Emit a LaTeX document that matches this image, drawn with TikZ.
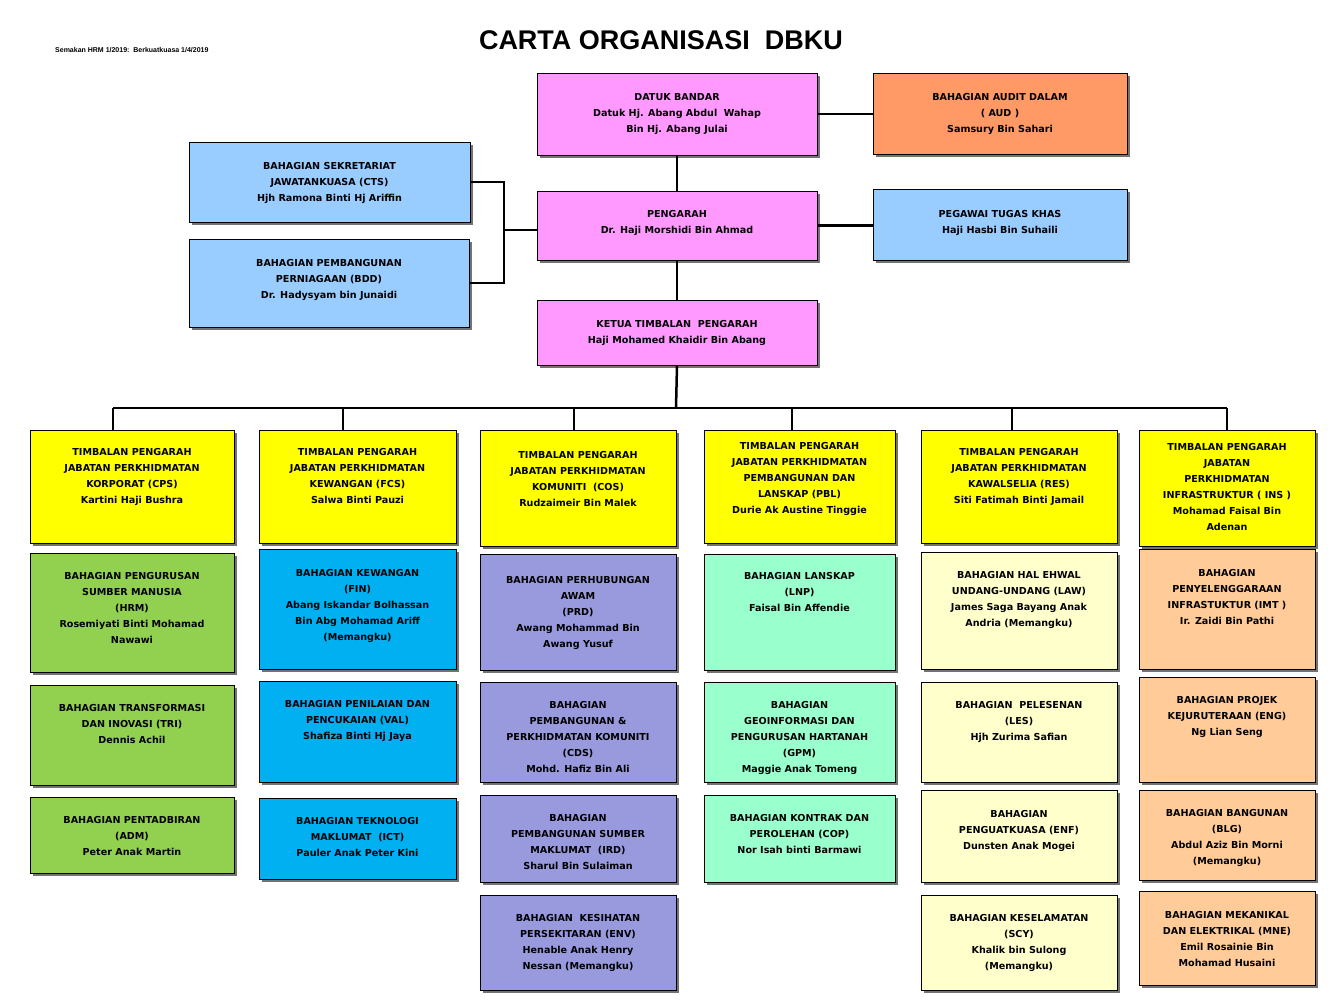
\documentclass[tikz,border=0pt]{standalone}
\usepackage{fontspec}
\setmainfont{DejaVu Sans}
\newfontfamily\titlef{Liberation Sans}
\definecolor{cpink}{HTML}{FF99FF}
\definecolor{corange}{HTML}{FF9966}
\definecolor{cblue}{HTML}{99CCFF}
\definecolor{cyel}{HTML}{FFFF00}
\definecolor{cgreen}{HTML}{92D050}
\definecolor{ccyan}{HTML}{00B0F0}
\definecolor{cpurp}{HTML}{9999DD}
\definecolor{caqua}{HTML}{99FFCC}
\definecolor{ccream}{HTML}{FFFFCC}
\definecolor{cpeach}{HTML}{FFCC99}
\tikzset{
 box/.style={draw=black,line width=0.8pt,inner sep=0pt},
 txt/.style={align=center,inner sep=0pt,font=\fontsize{9.6}{16}\selectfont\bfseries},
 conn/.style={line width=2.5pt,black},
 shadow/.style={fill=black!55}
}
\newcommand\bx[8]{%
 \pgfmathsetmacro\bw{#4-#2}\pgfmathsetmacro\bh{#5-#3}%
 \pgfmathsetmacro\cx{(#2+#4)/2}\pgfmathsetmacro\cy{(#3+#5)/2}\pgfmathsetmacro\ty{#3+#7}%
 \fill[shadow] (#2+3,#3+3) rectangle (#4+3,#5+3);
 \node[box,fill=#6,minimum width=\bw pt,minimum height=\bh pt] (#1) at (\cx,\cy) {};
 \node[txt,anchor=north] (#1t) at (\cx,\ty) {#8};}
\begin{document}
\begin{tikzpicture}[x=1pt,y=-1pt]
\useasboundingbox[fill=white] (0,0) rectangle (1344,1008);
\node[font=\titlef\fontsize{27}{30}\selectfont\bfseries] (title) at (661,40) {CARTA ORGANISASI\ \ DBKU};
\node[font=\titlef\fontsize{7}{8}\selectfont\bfseries,anchor=west,inner sep=0pt] (sem) at (55,50) {Semakan HRM 1/2019:\ \ Berkuatkuasa 1/4/2019};
% top
\bx{datuk}{537}{73}{817}{155}{cpink}{20}{DATUK BANDAR\\Datuk Hj. Abang Abdul\ \ Wahap\\Bin Hj. Abang Julai}
\bx{aud}{873}{73}{1127}{154}{corange}{20}{BAHAGIAN AUDIT DALAM\\( AUD )\\Samsury Bin Sahari}
\bx{sek}{189}{142}{470}{222}{cblue}{20}{BAHAGIAN SEKRETARIAT\\JAWATANKUASA (CTS)\\Hjh Ramona Binti Hj Ariffin}
\bx{bdd}{189}{239}{469}{327}{cblue}{20}{BAHAGIAN PEMBANGUNAN\\PERNIAGAAN (BDD)\\Dr. Hadysyam bin Junaidi}
\bx{peng}{537}{191}{817}{260}{cpink}{19}{PENGARAH\\Dr. Haji Morshidi Bin Ahmad}
\bx{ptk}{873}{189}{1127}{260}{cblue}{21}{PEGAWAI TUGAS KHAS\\Haji Hasbi Bin Suhaili}
\bx{ketua}{537}{300}{817}{365}{cpink}{20}{KETUA TIMBALAN\ \ PENGARAH\\Haji Mohamed Khaidir Bin Abang}
% col1
\bx{ca}{30}{430}{234}{543}{cyel}{18}{TIMBALAN PENGARAH\\JABATAN PERKHIDMATAN\\KORPORAT (CPS)\\Kartini Haji Bushra}
\bx{ca1}{30}{553}{234}{672}{cgreen}{19}{BAHAGIAN PENGURUSAN\\SUMBER MANUSIA\\(HRM)\\Rosemiyati Binti Mohamad\\Nawawi}
\bx{ca2}{30}{685}{234}{785}{cgreen}{19}{BAHAGIAN TRANSFORMASI\\DAN INOVASI (TRI)\\Dennis Achil}
\bx{ca3}{30}{797}{234}{873}{cgreen}{19}{BAHAGIAN PENTADBIRAN\\(ADM)\\Peter Anak Martin}
% col2
\bx{cb}{259}{430}{456}{543}{cyel}{18}{TIMBALAN PENGARAH\\JABATAN PERKHIDMATAN\\KEWANGAN (FCS)\\Salwa Binti Pauzi}
\bx{cb1}{259}{549}{456}{669}{ccyan}{20}{BAHAGIAN KEWANGAN\\(FIN)\\Abang Iskandar Bolhassan\\Bin Abg Mohamad Ariff\\(Memangku)}
\bx{cb2}{259}{681}{456}{782}{ccyan}{19}{BAHAGIAN PENILAIAN DAN\\PENCUKAIAN (VAL)\\Shafiza Binti Hj Jaya}
\bx{cb3}{259}{798}{456}{879}{ccyan}{19}{BAHAGIAN TEKNOLOGI\\MAKLUMAT\ \ (ICT)\\Pauler Anak Peter Kini}
% col3
\bx{cc}{480}{430}{676}{546}{cyel}{21}{TIMBALAN PENGARAH\\JABATAN PERKHIDMATAN\\KOMUNITI\ \ (COS)\\Rudzaimeir Bin Malek}
\bx{cc1}{480}{554}{676}{670}{cpurp}{22}{BAHAGIAN PERHUBUNGAN\\AWAM\\(PRD)\\Awang Mohammad Bin\\Awang Yusuf}
\bx{cc2}{480}{682}{676}{782}{cpurp}{19}{BAHAGIAN\\PEMBANGUNAN \&\\PERKHIDMATAN KOMUNITI\\(CDS)\\Mohd. Hafiz Bin Ali}
\bx{cc3}{480}{795}{676}{882}{cpurp}{19}{BAHAGIAN\\PEMBANGUNAN SUMBER\\MAKLUMAT\ \ (IRD)\\Sharul Bin Sulaiman}
\bx{cc4}{480}{895}{676}{990}{cpurp}{19}{BAHAGIAN\ \ KESIHATAN\\PERSEKITARAN (ENV)\\Henable Anak Henry\\Nessan (Memangku)}
% col4
\bx{cd}{704}{430}{895}{543}{cyel}{12}{TIMBALAN PENGARAH\\JABATAN PERKHIDMATAN\\PEMBANGUNAN DAN\\LANSKAP (PBL)\\Durie Ak Austine Tinggie}
\bx{cd1}{704}{554}{895}{670}{caqua}{18}{BAHAGIAN LANSKAP\\(LNP)\\Faisal Bin Affendie}
\bx{cd2}{704}{682}{895}{782}{caqua}{19}{BAHAGIAN\\GEOINFORMASI DAN\\PENGURUSAN HARTANAH\\(GPM)\\Maggie Anak Tomeng}
\bx{cd3}{704}{795}{895}{882}{caqua}{19}{BAHAGIAN KONTRAK DAN\\PEROLEHAN (COP)\\Nor Isah binti Barmawi}
% col5
\bx{ce}{921}{430}{1117}{543}{cyel}{18}{TIMBALAN PENGARAH\\JABATAN PERKHIDMATAN\\KAWALSELIA (RES)\\Siti Fatimah Binti Jamail}
\bx{ce1}{921}{552}{1117}{669}{ccream}{19}{BAHAGIAN HAL EHWAL\\UNDANG-UNDANG (LAW)\\James Saga Bayang Anak\\Andria (Memangku)}
\bx{ce2}{921}{682}{1117}{782}{ccream}{19}{BAHAGIAN\ \ PELESENAN\\(LES)\\Hjh Zurima Safian}
\bx{ce3}{921}{790}{1117}{882}{ccream}{20}{BAHAGIAN\\PENGUATKUASA (ENF)\\Dunsten Anak Mogei}
\bx{ce4}{921}{895}{1117}{990}{ccream}{19}{BAHAGIAN KESELAMATAN\\(SCY)\\Khalik bin Sulong\\(Memangku)}
% col6
\bx{cf}{1139}{430}{1315}{546}{cyel}{13}{TIMBALAN PENGARAH\\JABATAN\\PERKHIDMATAN\\INFRASTRUKTUR ( INS )\\Mohamad Faisal Bin\\Adenan}
\bx{cf1}{1139}{549}{1315}{669}{cpeach}{20}{BAHAGIAN\\PENYELENGGARAAN\\INFRASTUKTUR (IMT )\\Ir. Zaidi Bin Pathi}
\bx{cf2}{1139}{677}{1315}{782}{cpeach}{19}{BAHAGIAN PROJEK\\KEJURUTERAAN (ENG)\\Ng Lian Seng}
\bx{cf3}{1139}{790}{1315}{880}{cpeach}{19}{BAHAGIAN BANGUNAN\\(BLG)\\Abdul Aziz Bin Morni\\(Memangku)}
\bx{cf4}{1139}{891}{1315}{985}{cpeach}{20}{BAHAGIAN MEKANIKAL\\DAN ELEKTRIKAL (MNE)\\Emil Rosainie Bin\\Mohamad Husaini}
% connectors
\draw[conn] (datuk.south) -- (peng.north -| datuk.south);
\draw[conn] (datuk.east) -- (aud.west |- datuk.east);
\draw[conn] (peng.east) -- (ptk.west |- peng.east);
\coordinate (jb) at (504,230);
\draw[conn] (sek.east) -| (jb) |- (bdd.east);
\draw[conn] (jb) -- (peng.west |- jb);
\draw[conn] (peng.south) -- (ketua.north -| peng.south);
\coordinate (bus) at (676,408);
\coordinate (bl) at (113,408);
\coordinate (br) at (1227,408);
\draw[conn] (ketua.south) -- (bus);
\draw[conn] (bl) -- (br);
\coordinate (d2) at (343,408);
\coordinate (d3) at (574,408);
\coordinate (d4) at (792,408);
\coordinate (d5) at (1012,408);
\draw[conn] (bl) -- (bl |- ca.north);
\draw[conn] (d2) -- (d2 |- cb.north);
\draw[conn] (d3) -- (d3 |- cc.north);
\draw[conn] (d4) -- (d4 |- cd.north);
\draw[conn] (d5) -- (d5 |- ce.north);
\draw[conn] (br) -- (br |- cf.north);
\end{tikzpicture}
\end{document}
